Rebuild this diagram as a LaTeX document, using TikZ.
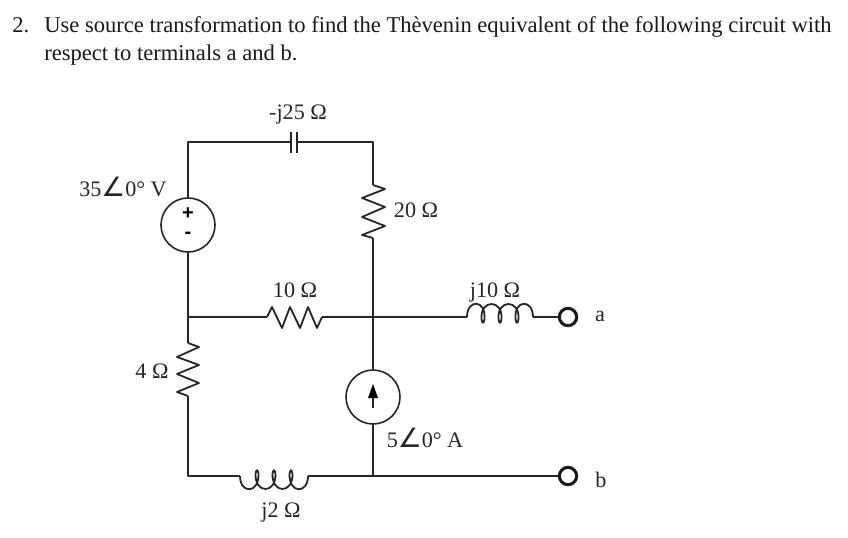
\documentclass[tikz,border=0pt]{standalone}
\usepackage{fontspec}
\setmainfont{Liberation Serif}
\newfontfamily\angfont{DejaVu Sans}
\newfontfamily\signfont{Liberation Sans}
\newcommand{\angmark}{{\angfont\fontsize{20}{20}\selectfont ∠}}
\tikzset{
  wire/.style={line width=1.35pt,draw=black!85,line join=round},
  lab/.style={font=\fontsize{16.6}{18}\selectfont,inner sep=0pt,text=black!85,anchor=base},
  txt/.style={font=\fontsize{16.93}{20}\selectfont,inner sep=0pt,anchor=base west,text=black!90},
  srcnode/.style={circle,draw=black!85,line width=1.2pt,minimum size=40.5pt,inner sep=0pt},
  termnode/.style={circle,draw=black!90,line width=2.3pt,minimum size=13pt,inner sep=0pt},
  sign/.style={font=\signfont\bfseries\fontsize{15}{15}\selectfont,inner sep=0pt,text=black},
}
\begin{document}
\begin{tikzpicture}[x=0.75pt,y=-0.75pt]
\useasboundingbox (0,0) rectangle (848,538);
% question text
\node[txt] (num) at (12,33) {2.};
\node[txt] (l1) at (44,33) {Use source transformation to find the Thèvenin equivalent of the following circuit with};
\node[txt] (l2) at (44,61) {respect to terminals a and b.};
% junctions and corners
\coordinate (tl) at (188,142);
\coordinate (tr) at (373,142);
\coordinate (ml) at (188,317);
\coordinate (mr) at (373,317);
\coordinate (bl) at (188,476);
\coordinate (br) at (373,476);
% sources and terminals
\node[srcnode] (vs) at (188,225) {};
\node[srcnode] (is) at (373,397) {};
\node[termnode] (ta) at (568,317) {};
\node[termnode] (tb) at (568,476) {};
% component ends
\coordinate (c1) at (291,142); \coordinate (c2) at (297,142);
\coordinate (r20a) at (373,185); \coordinate (r20b) at (373,238);
\coordinate (r10a) at (267,317); \coordinate (r10b) at (322,317);
\coordinate (r4a) at (188,343); \coordinate (r4b) at (188,396);
\coordinate (l10a) at (467,317); \coordinate (l10b) at (533,317);
\coordinate (l2a) at (240,476); \coordinate (l2b) at (308,476);
% wires
\draw[wire] (vs.north) -- (tl) -- (c1);
\draw[wire] (c2) -- (tr) -- (r20a);
\draw[wire] (r20b) -- (mr);
\draw[wire] (vs.south) -- (ml) -- (r4a);
\draw[wire] (ml) -- (r10a);
\draw[wire] (r10b) -- (mr) -- (l10a);
\draw[wire] (l10b) -- (ta.west);
\draw[wire] (mr) -- (is.north);
\draw[wire] (is.south) -- (br);
\draw[wire] (r4b) -- (bl) -- (l2a);
\draw[wire] (l2b) -- (br) -- (tb.west);
% capacitor
\draw[wire] (291,132) -- (291,153);
\draw[wire] (297,132) -- (297,153);
% resistors
\draw[wire] (r20a) -- (385,189) -- (362,198) -- (385,207) -- (362,217) -- (385,226) -- (362,235) -- (r20b);
\draw[wire] (r4a) -- (199,347) -- (177,357) -- (199,365) -- (177,374) -- (199,383) -- (177,392) -- (r4b);
\draw[wire] (r10a) -- (272,307) -- (282,328) -- (290,307) -- (300,328) -- (308,307) -- (317,328) -- (r10b);
% inductors
\draw[wire] (l10a) .. controls (467,299) and (486,299) .. (484.5,319)
  .. controls (484,324) and (482,324) .. (481.5,319)
  .. controls (480,299) and (503,299) .. (501.5,319)
  .. controls (501,324) and (499,324) .. (498.5,319)
  .. controls (497,299) and (520,299) .. (518.5,319)
  .. controls (518,324) and (516,324) .. (515.5,319)
  .. controls (514,299) and (533,299) .. (l10b);
\draw[wire] (l2a) .. controls (240,494) and (259,494) .. (258.5,474)
  .. controls (258,469) and (256,469) .. (255.5,474)
  .. controls (255,494) and (276,494) .. (275.5,474)
  .. controls (275,469) and (273,469) .. (272.5,474)
  .. controls (272,494) and (293,494) .. (292.5,474)
  .. controls (292,469) and (290,469) .. (289.5,474)
  .. controls (289,494) and (308,494) .. (l2b);
% source marks
\node[sign] (plus) at (188,214) {+};
\node[sign] (minus) at (188,235) {-};
\coordinate (arrlo) at (373,408);
\coordinate (arrhi) at (373,384);
\draw[line width=1.2pt,draw=black!85] (arrlo) -- (373,395);
\fill[black] (arrhi) -- (378,398) -- (368,398) -- cycle;
% labels
\node[lab] (lc) at (298,120) {-j25 Ω};
\node[lab] (lv) at (123,196) {35\angmark 0° V};
\node[lab] (l20) at (416,218) {20 Ω};
\node[lab] (l10) at (295,297) {10 Ω};
\node[lab] (lj10) at (495,297) {j10 Ω};
\node[lab] (la) at (600,321) {a};
\node[lab] (l4) at (152,378) {4 Ω};
\node[lab] (li) at (425,447) {5\angmark 0° A};
\node[lab] (lj2) at (281,517) {j2 Ω};
\node[lab] (lb) at (601,487) {b};
\end{tikzpicture}
\end{document}
